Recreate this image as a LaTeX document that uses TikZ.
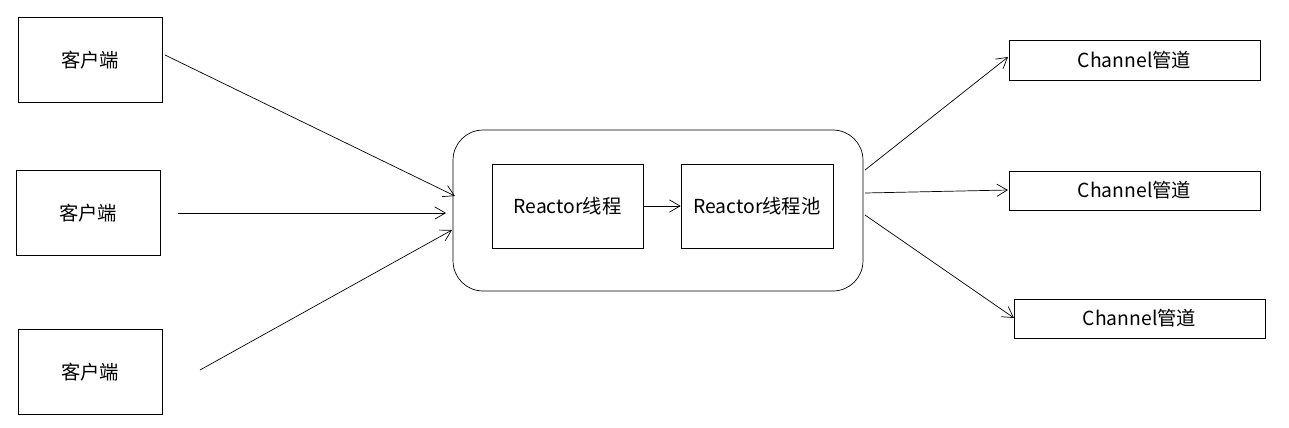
\documentclass[tikz,border=0pt]{standalone}
\usepackage{fontspec}
\setmainfont{Noto Sans CJK SC}
\usetikzlibrary{arrows.meta}

\begin{document}
\begin{tikzpicture}[x=0.02cm, y=-0.02cm, ->, >={Straight Barb[length=6pt,width=7pt]}, thin,
                    font=\fontsize{11}{13}\selectfont]
    \tikzstyle{box}=[draw, rectangle, inner sep=0pt]
    \useasboundingbox (0,0) rectangle (1289,427);

    \node[box, minimum width=2.88cm, minimum height=1.7cm] (c1) at (90,60)  {客户端};
    \node[box, minimum width=2.88cm, minimum height=1.7cm] (c2) at (88,213) {客户端};
    \node[box, minimum width=2.88cm, minimum height=1.7cm] (c3) at (90,372) {客户端};

    \node[box, rounded corners=0.6cm, minimum width=8.2cm, minimum height=3.22cm] (outer) at (658,210.5) {};
    \node[box, minimum width=3.02cm, minimum height=1.68cm] (r1) at (567.5,206) {Reactor线程};
    \node[box, minimum width=3.04cm, minimum height=1.68cm] (r2) at (757,206) {Reactor线程池};

    \node[box, minimum width=5.02cm, minimum height=0.8cm] (ch1) at (1134.5,60)  {Channel管道};
    \node[box, minimum width=5.02cm, minimum height=0.78cm] (ch2) at (1134.5,190.5) {Channel管道};
    \node[box, minimum width=5.02cm, minimum height=0.78cm] (ch3) at (1139.5,318.5) {Channel管道};

    % free ends of the connectors
    \coordinate (s1) at (165,55);
    \coordinate (s2) at (178,213);
    \coordinate (s3) at (200,370);
    \coordinate (e1) at (455,196);
    \coordinate (e2) at (446,213);
    \coordinate (e3) at (452,230);
    \coordinate (o1) at (865,170);
    \coordinate (o2) at (865,193);
    \coordinate (o3) at (865,215);
    \coordinate (t1) at (1008,57);
    \coordinate (t2) at (1008,190);
    \coordinate (t3) at (1014,318);

    \draw (s1) -- (e1);
    \draw (s2) -- (e2);
    \draw (s3) -- (e3);
    \draw (r1) -- (r2);
    \draw (o1) -- (t1);
    \draw (o2) -- (t2);
    \draw (o3) -- (t3);
\end{tikzpicture}
\end{document}
